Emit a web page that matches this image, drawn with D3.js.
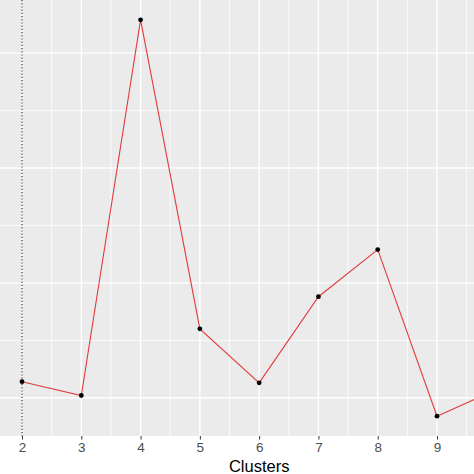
<!DOCTYPE html>
<html>
<head>
<meta charset="utf-8">
<script src="https://cdn.jsdelivr.net/npm/d3@7"></script>
<style>
  html, body { margin: 0; padding: 0; background: #fff; }
  svg { display: block; font-family: "Liberation Sans", Arial, sans-serif; }
</style>
</head>
<body>
<div id="chart"></div>
<script>
// number of clusters and the score
const clusters = [2, 3, 4, 5, 6, 7, 8, 9, 10];
const scores = [0.114, 0.102, 0.429, 0.160, 0.113, 0.188, 0.229, 0.084, 0.107];
const xTicks = [2, 3, 4, 5, 6, 7, 8, 9];   // labels visible in the crop
const yMajor = [0.1, 0.2, 0.3, 0.4];
const yMinor = [0.05, 0.15, 0.25, 0.35, 0.45];
const optimalK = 2;
const xTitle = "Clusters";

const width = 474, height = 474;

// panel is wider than the window: the picture is a crop of a bigger plot
const panel = {left: -1.7, right: 520, top: 0, bottom: 436};

const data = clusters.map((k, i) => ({k: k, v: scores[i]}));

// ggplot-like 5% expansion
const xExt = d3.extent(clusters), xPad = (xExt[1] - xExt[0]) * 0.05;
const yExt = d3.extent(scores), yPad = (yExt[1] - yExt[0]) * 0.05;

const x = d3.scaleLinear()
    .domain([xExt[0] - xPad, xExt[1] + xPad])
    .range([panel.left, panel.right]);

const y = d3.scaleLinear()
    .domain([yExt[0] - yPad, yExt[1] + yPad])
    .range([panel.bottom, panel.top]);

const svg = d3.select("#chart")
    .append("svg")
    .attr("width", width)
    .attr("height", height);

// panel background
svg.append("rect")
    .attr("x", panel.left)
    .attr("y", panel.top)
    .attr("width", panel.right - panel.left)
    .attr("height", panel.bottom - panel.top)
    .attr("fill", "#ebebeb");

const xMajor = clusters;
const xMinor = clusters.slice(0, -1).map(d => d + 0.5).concat([clusters[0] - 0.5]);

// minor grid
svg.append("g")
    .selectAll("line")
    .data(xMinor)
    .enter().append("line")
    .attr("x1", d => x(d)).attr("x2", d => x(d))
    .attr("y1", panel.top).attr("y2", panel.bottom)
    .attr("stroke", "#fff").attr("stroke-width", 0.8);

svg.append("g")
    .selectAll("line")
    .data(yMinor)
    .enter().append("line")
    .attr("x1", panel.left).attr("x2", panel.right)
    .attr("y1", d => y(d)).attr("y2", d => y(d))
    .attr("stroke", "#fff").attr("stroke-width", 0.8);

// major grid
svg.append("g")
    .selectAll("line")
    .data(xMajor)
    .enter().append("line")
    .attr("x1", d => x(d)).attr("x2", d => x(d))
    .attr("y1", panel.top).attr("y2", panel.bottom)
    .attr("stroke", "#fff").attr("stroke-width", 1.4);

svg.append("g")
    .selectAll("line")
    .data(yMajor)
    .enter().append("line")
    .attr("x1", panel.left).attr("x2", panel.right)
    .attr("y1", d => y(d)).attr("y2", d => y(d))
    .attr("stroke", "#fff").attr("stroke-width", 1.4);

// dotted line at chosen k
svg.append("line")
    .attr("x1", x(optimalK)).attr("x2", x(optimalK))
    .attr("y1", panel.top).attr("y2", panel.bottom)
    .attr("stroke", "#222")
    .attr("stroke-width", 1.1)
    .attr("stroke-dasharray", "1.2,2");

// line
const line = d3.line()
    .x(d => x(d.k))
    .y(d => y(d.v));

svg.append("path")
    .datum(data)
    .attr("d", line)
    .attr("fill", "none")
    .attr("stroke", "#e23b3b")
    .attr("stroke-width", 1.1);

// points
svg.append("g")
    .selectAll("circle")
    .data(data)
    .enter().append("circle")
    .attr("cx", d => x(d.k))
    .attr("cy", d => y(d.v))
    .attr("r", 2.4)
    .attr("fill", "#000");

// x axis
const xAxis = svg.append("g")
    .attr("transform", `translate(0,${panel.bottom})`)
    .call(d3.axisBottom(x).tickValues(xTicks).tickFormat(d3.format("d")).tickSize(3.5).tickPadding(3));

xAxis.select(".domain").remove();
xAxis.selectAll("line").attr("stroke", "#333");
xAxis.selectAll("text")
    .attr("fill", "#4d4d4d")
    .style("font-size", "13.5px");

// axis title
svg.append("text")
    .attr("x", (panel.left + panel.right) / 2)
    .attr("y", 472)
    .attr("text-anchor", "middle")
    .attr("fill", "#000")
    .style("font-size", "16.5px")
    .text(xTitle);
</script>
</body>
</html>
